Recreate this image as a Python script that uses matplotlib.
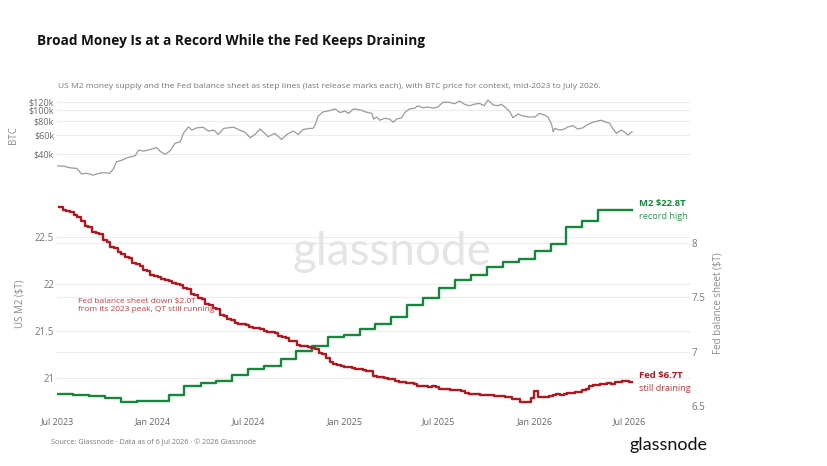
import matplotlib
matplotlib.use("Agg")
import matplotlib.pyplot as plt
import matplotlib.dates as mdates
import matplotlib.ticker as mticker
import pandas as pd

plt.rcParams['font.family'] = ['Open Sans', 'DejaVu Sans']

# --- data ---
# US M2, monthly releases ($T), Jul 2023 .. May 2026
m2_start = "2023-07-01"
m2_values = [20.83, 20.82, 20.81, 20.79, 20.745, 20.75,
             20.75, 20.82, 20.91, 20.95, 20.97, 21.03, 21.10, 21.13, 21.20, 21.29, 21.34, 21.44,
             21.46, 21.52, 21.58, 21.65, 21.78, 21.85, 21.96, 22.04, 22.10, 22.18, 22.24, 22.27,
             22.35, 22.43, 22.61, 22.67, 22.79]

# Fed balance sheet, weekly (Wednesdays) ($T), from 5 Jul 2023
fed_start = "2023-07-05"
fed_values = [8.33, 8.30, 8.29, 8.28, 8.25, 8.24, 8.20, 8.15, 8.14, 8.10,
              8.09, 8.08, 8.02, 8.01, 7.96, 7.95, 7.91, 7.90, 7.87, 7.86,
              7.81, 7.80, 7.79, 7.75, 7.74, 7.70, 7.69, 7.68, 7.67, 7.66,
              7.65, 7.63, 7.62, 7.61, 7.58, 7.57, 7.53, 7.52, 7.49, 7.48,
              7.44, 7.43, 7.40, 7.39, 7.34, 7.33, 7.30, 7.29, 7.26, 7.25,
              7.25, 7.24, 7.23, 7.22, 7.22, 7.21, 7.19, 7.18, 7.18, 7.17,
              7.14, 7.13, 7.12, 7.10, 7.10, 7.06, 7.05, 7.05, 7.04, 7.03,
              7.02, 6.99, 6.98, 6.94, 6.90, 6.89, 6.88, 6.87, 6.86, 6.86,
              6.85, 6.84, 6.84, 6.83, 6.82, 6.82, 6.78, 6.77, 6.77, 6.76,
              6.75, 6.75, 6.73, 6.72, 6.72, 6.71, 6.71, 6.70, 6.68, 6.68,
              6.68, 6.67, 6.68, 6.67, 6.66, 6.66, 6.66, 6.65, 6.65, 6.65,
              6.64, 6.62, 6.61, 6.61, 6.61, 6.60, 6.60, 6.60, 6.60, 6.59,
              6.59, 6.59, 6.58, 6.58, 6.56, 6.56, 6.54, 6.54, 6.54, 6.57,
              6.64, 6.58, 6.58, 6.58, 6.59, 6.60, 6.61, 6.60, 6.61, 6.62,
              6.62, 6.63, 6.63, 6.65, 6.66, 6.68, 6.69, 6.69, 6.70, 6.70,
              6.71, 6.70, 6.72, 6.72, 6.73, 6.73, 6.72]

data_end = "2026-07-06"

# BTC price ($k)
btc_dates = ["2023-07-01", "2023-07-13", "2023-07-26", "2023-08-08", "2023-08-17", "2023-08-27",
             "2023-09-08", "2023-09-21", "2023-10-01", "2023-10-10", "2023-10-17", "2023-10-23",
             "2023-11-02", "2023-11-12", "2023-11-28", "2023-12-04", "2023-12-14", "2023-12-26",
             "2024-01-08", "2024-01-14", "2024-01-24", "2024-02-02", "2024-02-12", "2024-02-22",
             "2024-02-28", "2024-03-09", "2024-03-15", "2024-03-25", "2024-04-06", "2024-04-16",
             "2024-04-26", "2024-05-05", "2024-05-15", "2024-05-24", "2024-06-03", "2024-06-12",
             "2024-06-25", "2024-07-05", "2024-07-14", "2024-07-24", "2024-08-02", "2024-08-08",
             "2024-08-21", "2024-09-03", "2024-09-13", "2024-09-25", "2024-10-05", "2024-10-14",
             "2024-10-27", "2024-11-02", "2024-11-06", "2024-11-12", "2024-11-22", "2024-12-01",
             "2024-12-14", "2024-12-24", "2025-01-02", "2025-01-09", "2025-01-19", "2025-02-01",
             "2025-02-10", "2025-02-23", "2025-02-26", "2025-03-04", "2025-03-10", "2025-03-20",
             "2025-03-29", "2025-04-05", "2025-04-11", "2025-04-21", "2025-04-27", "2025-05-06",
             "2025-05-16", "2025-05-22", "2025-06-01", "2025-06-10", "2025-06-20", "2025-06-29",
             "2025-07-09", "2025-07-21", "2025-07-31", "2025-08-10", "2025-08-19", "2025-08-29",
             "2025-09-07", "2025-09-17", "2025-09-26", "2025-10-03", "2025-10-13", "2025-10-22",
             "2025-10-29", "2025-11-07", "2025-11-14", "2025-11-20", "2025-11-30", "2025-12-09",
             "2025-12-19", "2026-01-01", "2026-01-10", "2026-01-20", "2026-01-26", "2026-02-02",
             "2026-02-05", "2026-02-08", "2026-02-18", "2026-02-27", "2026-03-05", "2026-03-15",
             "2026-03-24", "2026-04-03", "2026-04-09", "2026-04-22", "2026-05-01", "2026-05-08",
             "2026-05-17", "2026-05-24", "2026-05-30", "2026-06-06", "2026-06-15", "2026-06-21",
             "2026-06-28", "2026-07-06"]
btc_k = [31.5, 31.3, 30.2, 29.8, 26.6, 26.9, 25.9, 27.0, 27.3, 26.9, 29.5, 34.3,
         35.3, 37.2, 38.9, 43.6, 42.8, 44.2, 46.0, 42.8, 40.0, 42.8, 50.4, 52.0,
         62.0, 71.0, 66.3, 69.6, 70.3, 65.0, 66.3, 60.6, 68.7, 69.6, 70.5, 67.2,
         63.3, 56.6, 60.6, 67.9, 62.0, 57.8, 62.0, 54.6, 60.6, 65.0, 60.6, 67.2,
         68.7, 68.7, 73.1, 89.1, 97.2, 98.7, 103.3, 95.7, 98.7, 94.0, 103.3, 101.1,
         97.2, 94.0, 83.5, 87.2, 81.6, 84.9, 83.5, 78.3, 83.5, 86.0, 95.7, 103.3,
         104.9, 110.3, 105.7, 107.4, 104.9, 107.4, 118.6, 118.6, 115.0, 121.6, 113.9, 110.3,
         113.9, 115.9, 110.3, 124.3, 112.2, 110.3, 113.9, 104.9, 97.2, 86.0, 92.8, 89.1,
         87.2, 87.2, 94.0, 90.5, 87.2, 74.9, 64.1, 68.7, 66.3, 67.9, 71.0, 72.7,
         67.9, 69.6, 73.1, 78.3, 80.1, 81.6, 78.3, 76.6, 68.7, 62.0, 66.3, 64.1,
         59.8, 64.1]

x_ticks = ["2023-07-01", "2024-01-01", "2024-07-01", "2025-01-01", "2025-07-01", "2026-01-01", "2026-07-01"]
btc_ticks = [40, 60, 80, 100, 120]
m2_ticks = [21, 21.5, 22, 22.5]
fed_ticks = [6.5, 7, 7.5, 8]

# --- build series ---
end = pd.Timestamp(data_end)
m2_dates = list(pd.date_range(m2_start, periods=len(m2_values), freq="MS")) + [end]
m2_y = m2_values + [m2_values[-1]]
fed_dates = list(pd.date_range(fed_start, periods=len(fed_values), freq="7D")) + [end]
fed_y = fed_values + [fed_values[-1]]
btc_x = pd.to_datetime(btc_dates)
btc_y = [v * 1000 for v in btc_k]

GREEN = "#15873a"
RED = "#b3161e"
GRAY = "#8a8a8a"
GRID = "#ececec"

fig = plt.figure(figsize=(8.28, 4.66), dpi=100)
W, H = 828, 466

def rect(x0, y0, x1, y1):
    return [x0 / W, 1 - y1 / H, (x1 - x0) / W, (y1 - y0) / H]

xlim = (pd.Timestamp("2023-07-01"), pd.Timestamp("2026-10-25"))

# BTC panel
axb = fig.add_axes(rect(57, 99, 690, 178))
axb.plot(btc_x, btc_y, color="#9a9a9a", lw=0.9)
axb.set_yscale("log")
axb.set_ylim(24400, 127000)
axb.set_xlim(*xlim)
axb.yaxis.set_major_locator(mticker.FixedLocator([t * 1000 for t in btc_ticks]))
axb.yaxis.set_minor_locator(mticker.NullLocator())
axb.set_yticklabels([f"${t}k" for t in btc_ticks])
axb.set_xticks([])
axb.grid(axis="y", color=GRID, lw=0.8)
axb.set_axisbelow(True)
axb.set_ylabel("BTC", color=GRAY, fontsize=7)
axb.yaxis.set_label_coords(-0.060, 0.54)
for s in axb.spines.values():
    s.set_visible(False)
axb.tick_params(axis="y", length=0, pad=2, labelsize=6.5, labelcolor="#666666")

# main panel: grid axes
main_rect = rect(57, 198, 690, 406)
ax = fig.add_axes(main_rect)
ax.set_ylim(20.70, 22.92)
ax.set_xlim(*xlim)
ax.set_yticks(m2_ticks)
ax.set_yticklabels(["21", "21.5", "22", "22.5"])
ax.grid(axis="y", color=GRID, lw=0.8)
ax.set_ylabel("US M2 ($T)", color=GRAY, fontsize=7)
ax.yaxis.set_label_coords(-0.049, 0.49)
ax.xaxis.set_major_locator(mticker.FixedLocator(mdates.date2num(pd.to_datetime(x_ticks))))
ax.xaxis.set_major_formatter(mdates.DateFormatter("%b %Y"))
ax.tick_params(axis="x", length=0, pad=8, labelsize=6.5, labelcolor="#666666")
ax.tick_params(axis="y", length=0, pad=2, labelsize=7, labelcolor="#777777")

axr = ax.twinx()
axr.set_ylim(6.5, 8.41)
axr.set_yticks(fed_ticks)
axr.set_yticklabels(["6.5", "7", "7.5", "8"])
axr.grid(axis="y", color=GRID, lw=0.8)
axr.set_ylabel("Fed balance sheet ($T)", color=GRAY, fontsize=7)
axr.yaxis.set_label_coords(1.035, 0.495)
axr.tick_params(axis="y", length=0, pad=1, labelsize=7, labelcolor="#777777")
for a in (ax, axr):
    for s in a.spines.values():
        s.set_visible(False)

# watermark
fig.text(392 / W, 1 - 252 / H, "glassnode", ha="center", va="center",
         fontsize=33, color="#e4e4e4", family=["Lato", "DejaVu Sans"], zorder=0)

# line axes on top
axm = fig.add_axes(main_rect, sharex=ax)
axm.set_ylim(ax.get_ylim())
axm.axis("off")
axm.step(m2_dates, m2_y, where="post", color=GREEN, lw=1.7)

axf = fig.add_axes(main_rect, sharex=ax)
axf.set_ylim(axr.get_ylim())
axf.axis("off")
axf.step(fed_dates, fed_y, where="post", color=RED, lw=1.7)
axf.set_xlim(*xlim)

axm.annotate(f"M2 ${m2_values[-1]:.1f}T", xy=(end, m2_values[-1]), xytext=(5, 4.5),
             textcoords="offset points", va="center", fontsize=6.8, fontweight="bold", color=GREEN)
axm.annotate("record high", xy=(end, m2_values[-1]), xytext=(5, -4.5),
             textcoords="offset points", va="center", fontsize=6.6, color="#2f9a50")
axf.annotate(f"Fed ${fed_values[-1]:.1f}T", xy=(end, fed_values[-1]), xytext=(5, 4.5),
             textcoords="offset points", va="center", fontsize=6.8, fontweight="bold", color=RED)
axf.annotate("still draining", xy=(end, fed_values[-1]), xytext=(5, -4.5),
             textcoords="offset points", va="center", fontsize=6.6, color="#c8353b")

fig.text(78 / W, 1 - 305.5 / H, "Fed balance sheet down $2.0T\nfrom its 2023 peak, QT still running",
         ha="left", va="center", fontsize=6.0, color="#cc3a3a", linespacing=1.35)

# titles and footer
fig.text(37 / W, 1 - 41 / H, "Broad Money Is at a Record While the Fed Keeps Draining",
         ha="left", va="center", fontsize=9.8, fontweight="bold", color="#111111")
fig.text(58 / W, 1 - 87 / H,
         "US M2 money supply and the Fed balance sheet as step lines (last release marks each), "
         "with BTC price for context, mid-2023 to July 2026.",
         ha="left", va="center", fontsize=6.12, color="#777777")
fig.text(51 / W, 1 - 443 / H, "Source: Glassnode · Data as of 6 Jul 2026 · © 2026 Glassnode",
         ha="left", va="center", fontsize=5.2, color="#777777")
fig.text(630 / W, 1 - 445 / H, "glassnode", ha="left", va="center", fontsize=13,
         color="#111111", family=["Lato", "DejaVu Sans"])

fig.savefig("out.png", dpi=100)
